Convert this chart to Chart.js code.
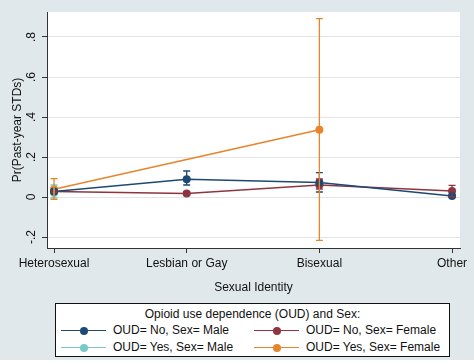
<!DOCTYPE html>
<html><head><meta charset="utf-8">
<script src="https://cdn.jsdelivr.net/npm/chart.js@4"></script>
<style>
html,body{margin:0;padding:0;background:#fff;}
#wrap{position:relative;width:474px;height:364px;}
#legend{position:absolute;left:55px;top:303px;width:393px;height:52px;border:1px solid #111;background:#fff;font-family:"Liberation Sans",Arial,sans-serif;font-size:12px;color:#111;}
#legend .t{position:absolute;left:0;right:0;top:3px;text-align:center;}
#legend .it{position:absolute;white-space:nowrap;}
#legend .ln{position:absolute;top:7px;left:0;width:45px;height:0;border-top:1.5px solid;}
#legend .dt{position:absolute;top:4px;left:19px;width:8px;height:8px;border-radius:50%;}
#legend .tx{position:absolute;left:52px;top:0;}
</style></head>
<body>
<div id="wrap"><canvas id="c" width="474" height="364"></canvas><div id="legend"></div></div>
<script>
const categories = ["Heterosexual", "Lesbian or Gay", "Bisexual", "Other"];
const yTicks = [-0.2, 0, 0.2, 0.4, 0.6, 0.8];
const legendTitle = "Opioid use dependence (OUD) and Sex:";
const seriesNames = ["OUD= No, Sex= Male", "OUD= No, Sex= Female", "OUD= Yes, Sex= Male", "OUD= Yes, Sex= Female"];
// point estimates
const noMale = [0.027, 0.089, 0.072, 0.005];
const noFemale = [0.027, 0.018, 0.060, 0.030];
const yesMale = [0.020, null, null, null];
const yesFemale = [0.039, null, 0.336, null];
// confidence intervals
const noMaleLo = [0.022, 0.060, 0.025, -0.002];
const noMaleHi = [0.032, 0.130, 0.122, 0.012];
const noFemaleLo = [0.023, 0.010, 0.040, 0.002];
const noFemaleHi = [0.031, 0.026, 0.090, 0.058];
const yesMaleLo = [-0.005, null, null, null];
const yesMaleHi = [0.060, null, null, null];
const yesFemaleLo = [-0.012, null, -0.217, null];
const yesFemaleHi = [0.092, null, 0.892, null];

const colors = ["#1c4a72", "#8e3540", "#78cac6", "#e8842a"];
const vals = [noMale, noFemale, yesMale, yesFemale];
const los = [noMaleLo, noFemaleLo, yesMaleLo, yesFemaleLo];
const his = [noMaleHi, noFemaleHi, yesMaleHi, yesFemaleHi];

const FONT = "'Liberation Sans', Arial, sans-serif";
const TXT = "#111";

const datasets = vals.map((v, i) => ({
  label: seriesNames[i],
  data: v.map((y, k) => ({x: k, y: y, lo: los[i][k], hi: his[i][k]})),
  borderColor: colors[i],
  backgroundColor: colors[i],
  borderWidth: 1.5,
  pointRadius: 4,
  pointHoverRadius: 4,
  pointBorderWidth: 0,
  spanGaps: true,
  tension: 0
}));

const bgPlugin = {
  id: 'bg',
  beforeDraw(chart) {
    const {ctx, chartArea: a} = chart;
    ctx.save();
    ctx.fillStyle = "#e0e8eb";
    ctx.fillRect(0, 0, chart.width, 360);
    ctx.fillStyle = "#ffffff";
    ctx.fillRect(a.left, a.top, a.right - a.left, a.bottom - a.top);
    ctx.restore();
  }
};

const errPlugin = {
  id: 'err',
  afterDatasetsDraw(chart) {
    const {ctx, scales: {x, y}} = chart;
    ctx.save();
    chart.data.datasets.forEach((ds, i) => {
      ctx.strokeStyle = ds.borderColor;
      ctx.lineWidth = 1.3;
      ds.data.forEach(p => {
        if (p.y === null || p.lo === null) return;
        const px = x.getPixelForValue(p.x);
        const y1 = y.getPixelForValue(p.lo), y2 = y.getPixelForValue(p.hi);
        ctx.beginPath();
        ctx.moveTo(px, y1); ctx.lineTo(px, y2);
        ctx.moveTo(px - 3.5, y1); ctx.lineTo(px + 3.5, y1);
        ctx.moveTo(px - 3.5, y2); ctx.lineTo(px + 3.5, y2);
        ctx.stroke();
      });
    });
    ctx.restore();
  }
};

new Chart(document.getElementById('c'), {
  type: 'line',
  data: {datasets},
  options: {
    responsive: false,
    animation: false,
    events: [],
    layout: {padding: {left: 0, top: 12, right: 14, bottom: 66}},
    plugins: {legend: {display: false}, tooltip: {enabled: false}},
    scales: {
      x: {
        type: 'linear',
        min: -0.053, max: 3.06,
        afterBuildTicks: s => { s.ticks = categories.map((c, k) => ({value: k})); },
        afterFit: s => { s.height = 50; },
        ticks: {
          callback: v => categories[v],
          color: TXT, font: {family: FONT, size: 12}, padding: 3,
          maxRotation: 0, minRotation: 0, autoSkip: false
        },
        grid: {drawOnChartArea: false, drawTicks: true, tickLength: 5, tickColor: "#333", tickWidth: 1},
        border: {color: "#333", width: 1},
        title: {display: true, text: "Sexual Identity", color: TXT, font: {family: FONT, size: 12}, padding: {top: 0, bottom: 3}}
      },
      y: {
        type: 'linear',
        min: -0.255, max: 0.925,
        afterBuildTicks: s => { s.ticks = yTicks.map(v => ({value: v})); },
        afterFit: s => { s.width = 47; },
        ticks: {
          callback: v => { if (Math.abs(v) < 1e-9) return "0"; const s = v.toFixed(1); return s.replace("0.", "."); },
          color: TXT, font: {family: FONT, size: 12}, padding: 3,
          minRotation: 90, maxRotation: 90, crossAlign: 'center', autoSkip: false
        },
        grid: {color: "#e4e4e4", lineWidth: 1, drawTicks: true, tickLength: 5, tickColor: "#333"},
        border: {color: "#333", width: 1},
        title: {display: true, text: "Pr(Past-year STDs)", color: TXT, font: {family: FONT, size: 12}, padding: {top: 10, bottom: 0}}
      }
    }
  },
  plugins: [bgPlugin, errPlugin]
});

// legend built from the series arrays
const lg = document.getElementById('legend');
let html = '<div class="t">' + legendTitle + '</div>';
const pos = [[5, 19], [198, 19], [5, 36], [198, 36]];
seriesNames.forEach((n, i) => {
  html += '<div class="it" style="left:' + pos[i][0] + 'px;top:' + pos[i][1] + 'px">' +
    '<div class="ln" style="border-color:' + colors[i] + '"></div>' +
    '<div class="dt" style="background:' + colors[i] + '"></div>' +
    '<div class="tx">' + n + '</div></div>';
});
lg.innerHTML = html;
</script>
</body></html>
